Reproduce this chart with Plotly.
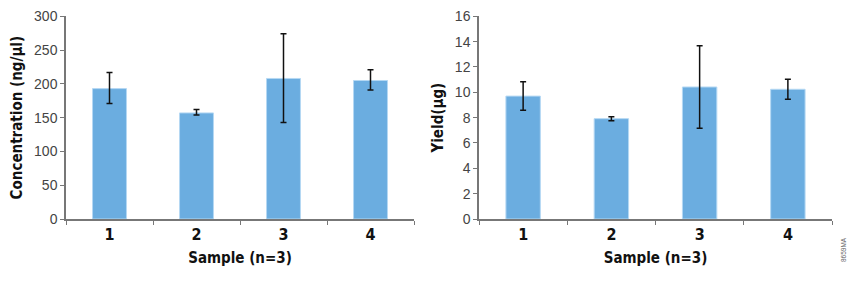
import plotly.graph_objects as go

samples = ["1", "2", "3", "4"]
concentration = [193, 157, 208, 205]
conc_err_plus = [24, 5, 66, 16]
conc_err_minus = [22, 3, 65, 14]
yield_ug = [9.7, 7.92, 10.42, 10.24]
yield_err_plus = [1.14, 0.16, 3.26, 0.79]
yield_err_minus = [1.12, 0.16, 3.26, 0.79]

W, H = 850, 281
bar_color = "#6badE0"
edge_color = "#b5d8f3"
title_font = dict(family="DejaVu Sans Condensed, Liberation Sans Narrow, sans-serif", size=15, color="#111")
tick_font = dict(family="Liberation Sans, Arial, sans-serif", size=14, color="#444")
xtick_font = dict(family="DejaVu Sans Condensed, Liberation Sans Narrow, sans-serif", size=16, color="#111")

fig = go.Figure()
fig.add_trace(go.Bar(
    x=samples, y=concentration, xaxis="x", yaxis="y",
    marker=dict(color=bar_color, line=dict(color=edge_color, width=1)),
    error_y=dict(type="data", array=conc_err_plus, arrayminus=conc_err_minus,
                 color="#111", thickness=1.5, width=3),
    showlegend=False))
fig.add_trace(go.Bar(
    x=samples, y=yield_ug, xaxis="x2", yaxis="y2",
    marker=dict(color=bar_color, line=dict(color=edge_color, width=1)),
    error_y=dict(type="data", array=yield_err_plus, arrayminus=yield_err_minus,
                 color="#111", thickness=1.5, width=3),
    showlegend=False))

ydom = [1 - 219 / H, 1 - 16.3 / H]
axis_common = dict(showline=True, linecolor="#777", linewidth=1.5, ticks="outside",
                   ticklen=4, tickcolor="#777", showgrid=False, zeroline=False, automargin=False)

xticktext = ["<b>%s</b>" % s for s in samples]

fig.update_layout(
    width=W, height=H,
    margin=dict(l=0, r=0, t=0, b=0),
    paper_bgcolor="white", plot_bgcolor="white",
    bargap=0.61,
    xaxis=dict(domain=[66 / W, 414 / W], anchor="y", tickson="boundaries",
               tickvals=samples, ticktext=xticktext,
               tickfont=xtick_font, title=dict(text="<b>Sample (n=3)</b>", font=title_font, standoff=10),
               **axis_common),
    yaxis=dict(domain=ydom, anchor="x", range=[0, 300], dtick=50, tickfont=tick_font,
               title=dict(text="<b>Concentration (ng/µl)</b>", font=title_font, standoff=8),
               **axis_common),
    xaxis2=dict(domain=[479 / W, 832 / W], anchor="y2", tickson="boundaries",
                tickvals=samples, ticktext=xticktext,
                tickfont=xtick_font, title=dict(text="<b>Sample (n=3)</b>", font=title_font, standoff=10),
                **axis_common),
    yaxis2=dict(domain=ydom, anchor="x2", range=[0, 16], dtick=2, tickfont=tick_font,
                title=dict(text="<b>Yield(µg)</b>", font=title_font, standoff=8),
                **axis_common),
    annotations=[dict(text="8659MA", x=843 / W, y=1 - 250 / H, xref="paper", yref="paper",
                      xanchor="center", yanchor="middle",
                      showarrow=False, textangle=-90,
                      font=dict(family="Liberation Sans, Arial, sans-serif", size=6.5, color="#666"))],
)

fig.write_html("out.html")
